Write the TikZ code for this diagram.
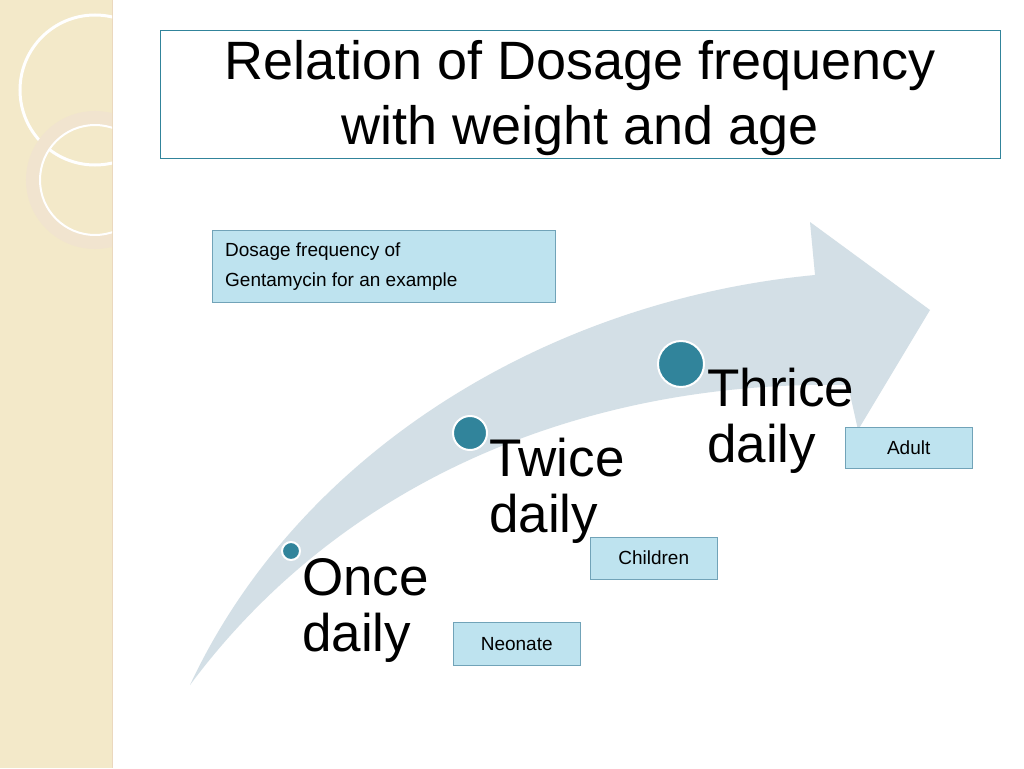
\documentclass[tikz,border=0pt]{standalone}
\usepackage{fontspec}
\setmainfont{Liberation Sans}
\begin{document}
\begin{tikzpicture}[x=1pt,y=-1pt,
  dot/.style={circle,fill=teal1,draw=white,line width=2pt,inner sep=0pt},
  big/.style={anchor=north west,align=left,font=\fontsize{53}{56}\selectfont,inner sep=0pt},
  tag/.style={draw=cyan!40!gray,fill=tagc,font=\fontsize{19}{26}\selectfont,inner sep=5pt}]
\definecolor{teal1}{HTML}{31849B}
\definecolor{tagc}{HTML}{BEE3EF}
\definecolor{arr}{HTML}{D3DFE6}
\definecolor{beige}{HTML}{F3E9C9}
\useasboundingbox (0,0) rectangle (1024,768);
\fill[white] (0,0) rectangle (1024,768);
\fill[beige] (0,0) rectangle (112,768);
\draw[beige!60!brown!60,line width=1pt] (112,0) -- (112,768);
\begin{scope}
\clip (0,0) rectangle (112,768);
\draw[white,line width=3pt] (95,90) circle (75);
\draw[beige!70!brown!50,line width=14pt] (95,180) circle (62);
\draw[white,line width=2pt] (95,180) circle (55);
\end{scope}
\node[draw=teal1,line width=1.2pt,minimum width=840,minimum height=128,anchor=north west,inner sep=0pt] (title) at (160,30) {};
\node[align=center,font=\fontsize{54}{65}\selectfont] (tt) at (580,98) {Relation of Dosage frequency\\with weight and age};
\fill[arr] (190,685) .. controls (300,450) and (550,300) .. (815,275) -- (810,222) -- (930,310) -- (858,430) -- (848,385) .. controls (600,380) and (350,470) .. (190,685);
\node[dot,minimum size=18] (d1) at (291,551) {};
\node[dot,minimum size=34] (d2) at (470,433) {};
\node[dot,minimum size=46] (d3) at (681,364) {};
\node[big] (t1) at (302,558) {Once\\daily};
\node[big] (t2) at (489,438) {Twice\\daily};
\node[big] (t3) at (707,368) {Thrice\\daily};
\node[tag,minimum width=127,minimum height=43,anchor=north west] (n1) at (453,622) {Neonate};
\node[tag,minimum width=127,minimum height=42,anchor=north west] (n2) at (590,537) {Children};
\node[tag,minimum width=127,minimum height=41,anchor=north west] (n3) at (845,427) {Adult};
\node[tag,minimum width=343,minimum height=72,anchor=north west] (n4) at (212,230) {};
\node[anchor=west,align=left,inner sep=0pt,font=\fontsize{19}{30}\selectfont] (n4t) at ([xshift=13pt]n4.west) {Dosage frequency of\\Gentamycin for an example};
\end{tikzpicture}
\end{document}
